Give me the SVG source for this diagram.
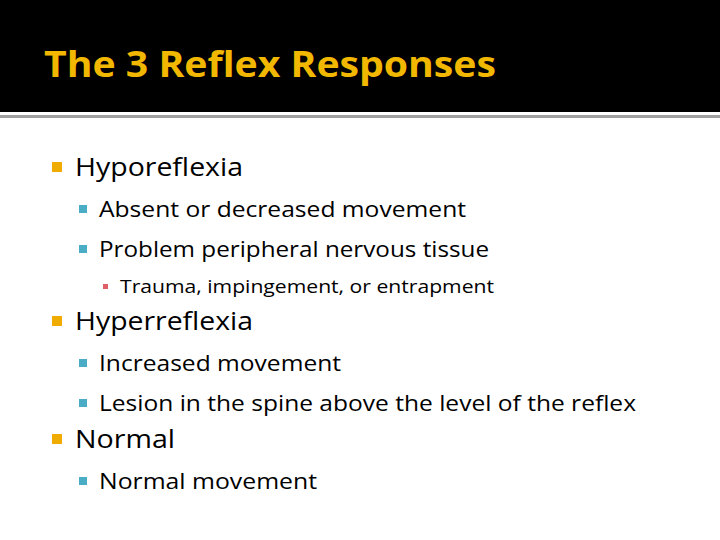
<svg xmlns="http://www.w3.org/2000/svg" width="720" height="540" viewBox="0 0 720 540">
<style>
text{font-family:"Open Sans","Liberation Sans",sans-serif;fill:#000}
.t{font-weight:bold;font-size:36px;fill:#F2B800}
.l1{font-size:26px}.l2{font-size:22px}.l3{font-size:18px}
.b1{fill:#F0AB00}.b2{fill:#4BACC6}.b3{fill:#E0606A}
</style>
<rect width="720" height="540" fill="#fff"/>
<rect width="720" height="112" fill="#000"/>
<rect y="115" width="720" height="3" fill="#A0A0A0"/>
<text class="t" x="44" y="77" textLength="452" lengthAdjust="spacingAndGlyphs">The 3 Reflex Responses</text>
<rect class="b1" x="52" y="162" width="10" height="10"/>
<text class="l1" x="75" y="176" textLength="168" lengthAdjust="spacingAndGlyphs">Hyporeflexia</text>
<rect class="b2" x="79" y="205" width="8" height="8"/>
<text class="l2" x="99" y="217" textLength="367" lengthAdjust="spacingAndGlyphs">Absent or decreased movement</text>
<rect class="b2" x="79" y="245" width="8" height="8"/>
<text class="l2" x="99" y="257" textLength="390" lengthAdjust="spacingAndGlyphs">Problem peripheral nervous tissue</text>
<rect class="b3" x="103" y="284" width="5" height="5"/>
<text class="l3" x="120" y="293" textLength="374" lengthAdjust="spacingAndGlyphs">Trauma, impingement, or entrapment</text>
<rect class="b1" x="52" y="316" width="10" height="10"/>
<text class="l1" x="75" y="330" textLength="178" lengthAdjust="spacingAndGlyphs">Hyperreflexia</text>
<rect class="b2" x="79" y="359" width="8" height="8"/>
<text class="l2" x="99" y="371" textLength="242" lengthAdjust="spacingAndGlyphs">Increased movement</text>
<rect class="b2" x="79" y="399" width="8" height="8"/>
<text class="l2" x="99" y="411" textLength="537" lengthAdjust="spacingAndGlyphs">Lesion in the spine above the level of the reflex</text>
<rect class="b1" x="52" y="434" width="10" height="10"/>
<text class="l1" x="75" y="448" textLength="100" lengthAdjust="spacingAndGlyphs">Normal</text>
<rect class="b2" x="79" y="477" width="8" height="8"/>
<text class="l2" x="99" y="489" textLength="218" lengthAdjust="spacingAndGlyphs">Normal movement</text>
</svg>
